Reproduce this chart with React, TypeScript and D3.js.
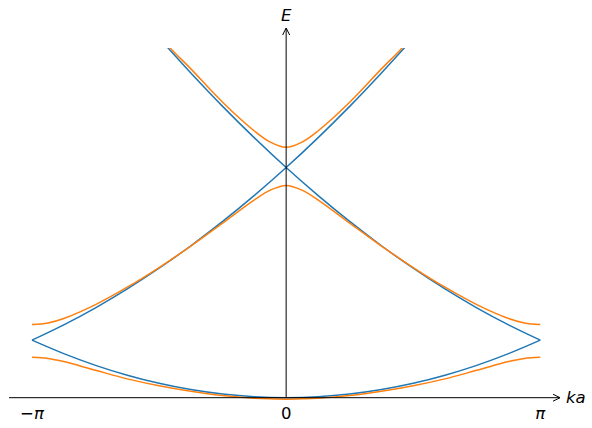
import React from "react";
import * as d3 from "d3";

// k in units of pi/a, E in units of hbar^2/(2 m a^2)
const kGrid = [-1, -0.875, -0.75, -0.625, -0.5, -0.375, -0.25, -0.125, 0, 0.125, 0.25, 0.375, 0.5, 0.625, 0.75, 0.875, 1];
const blueCentre = [9.87, 7.56, 5.55, 3.86, 2.47, 1.39, 0.62, 0.15, 0, 0.15, 0.62, 1.39, 2.47, 3.86, 5.55, 7.56, 9.87];

const kFalling = [-0.5, -0.375, -0.25, -0.125, 0, 0.125, 0.25, 0.375, 0.5, 0.625, 0.75, 0.875, 1];
const blueFalling = [61.7, 55.7, 49.97, 44.57, 39.48, 34.7, 30.23, 26.06, 22.21, 18.66, 15.42, 12.49, 9.87];
const kRising = [-1, -0.875, -0.75, -0.625, -0.5, -0.375, -0.25, -0.125, 0, 0.125, 0.25, 0.375, 0.5];
const blueRising = [9.87, 12.49, 15.42, 18.66, 22.21, 26.06, 30.23, 34.7, 39.48, 44.57, 49.97, 55.7, 61.7];

const kBand = [-1, -0.9375, -0.875, -0.75, -0.625, -0.5, -0.375, -0.25, -0.125, -0.0625, 0, 0.0625, 0.125, 0.25, 0.375, 0.5, 0.625, 0.75, 0.875, 0.9375, 1];
const orangeBand1 = [6.93, 6.74, 6.2, 4.7, 3.23, 2.05, 1.1, 0.37, -0.09, -0.2, -0.25, -0.2, -0.09, 0.37, 1.1, 2.05, 3.23, 4.7, 6.2, 6.74, 6.93];
const orangeBand2 = [12.55, 12.82, 13.59, 15.97, 18.95, 22.32, 26.01, 29.96, 33.93, 35.61, 36.4, 35.61, 33.93, 29.96, 26.01, 22.32, 18.95, 15.97, 13.59, 12.82, 12.55];
const kBand3 = [-0.5, -0.45, -0.375, -0.25, -0.125, -0.0625, 0, 0.0625, 0.125, 0.25, 0.375, 0.45, 0.5];
const orangeBand3 = [62.1, 59.7, 56.4, 50.67, 45.74, 43.83, 42.95, 43.83, 45.74, 50.67, 56.4, 59.7, 62.1];

const xTicks = [-1, 0, 1];
const xTickSigns = ["−", "", ""];
const xTickSymbols = ["π", "0", "π"];

const W = 592;
const H = 428;
const BLUE = "#1f77b4";
const ORANGE = "#ff7f0e";

export default function App() {
  const x = d3.scaleLinear().domain([-1, 1]).range([32, 540.3]);
  const y = d3.scaleLinear().domain([0, 60]).range([397.7, 47.9]);

  const line = (ks: number[], es: number[]) =>
    d3
      .line<number>()
      .x((_, i) => x(ks[i]))
      .y((e) => y(e))
      .curve(d3.curveCatmullRom.alpha(0.5))(es) as string;

  const blueSeries = [
    line(kGrid, blueCentre),
    line(kFalling, blueFalling),
    line(kRising, blueRising),
  ];
  const orangeSeries = [
    line(kBand, orangeBand1),
    line(kBand, orangeBand2),
    line(kBand3, orangeBand3),
  ];

  const axisY = y(0);
  const axisX = x(0);
  const xStart = 9;
  const xEnd = 560;
  const yTop = 28;
  const font = "'DejaVu Sans', sans-serif";
  const fs = 16.5;

  return (
    <svg
      width={W}
      height={H}
      viewBox={`0 0 ${W} ${H}`}
      style={{ position: "fixed", left: 0, top: 0, background: "#fff" }}
    >
      <defs>
        <clipPath id="plotClip">
          <rect x={0} y={y(60)} width={W} height={H - y(60)} />
        </clipPath>
      </defs>
      <g clipPath="url(#plotClip)" fill="none" strokeWidth={1.5}>
        {blueSeries.map((d, i) => (
          <path key={"b" + i} d={d} stroke={BLUE} />
        ))}
        {orangeSeries.map((d, i) => (
          <path key={"o" + i} d={d} stroke={ORANGE} />
        ))}
      </g>
      {/* x axis with arrow */}
      <line x1={xStart} y1={axisY} x2={xEnd} y2={axisY} stroke="#000" strokeWidth={1} />
      <path
        d={`M${xEnd - 7},${axisY - 3.5} L${xEnd},${axisY} L${xEnd - 7},${axisY + 3.5}`}
        fill="none"
        stroke="#000"
        strokeWidth={1}
      />
      {/* y axis with arrow */}
      <line x1={axisX} y1={axisY} x2={axisX} y2={yTop} stroke="#000" strokeWidth={1} />
      <path
        d={`M${axisX - 3.5},${yTop + 7} L${axisX},${yTop} L${axisX + 3.5},${yTop + 7}`}
        fill="none"
        stroke="#000"
        strokeWidth={1}
      />
      {xTicks.map((t, i) => (
        <text
          key={t}
          x={x(t)}
          y={418.5}
          textAnchor="middle"
          fontFamily={font}
          fontSize={fs}
          fill="#000"
        >
          {xTickSigns[i]}
          <tspan fontStyle={i === 1 ? "normal" : "italic"}>{xTickSymbols[i]}</tspan>
        </text>
      ))}
      <text x={566} y={403} fontFamily={font} fontSize={fs} fontStyle="italic" fill="#000">
        ka
      </text>
      <text x={axisX} y={20.5} textAnchor="middle" fontFamily={font} fontSize={fs} fontStyle="italic" fill="#000">
        E
      </text>
    </svg>
  );
}
